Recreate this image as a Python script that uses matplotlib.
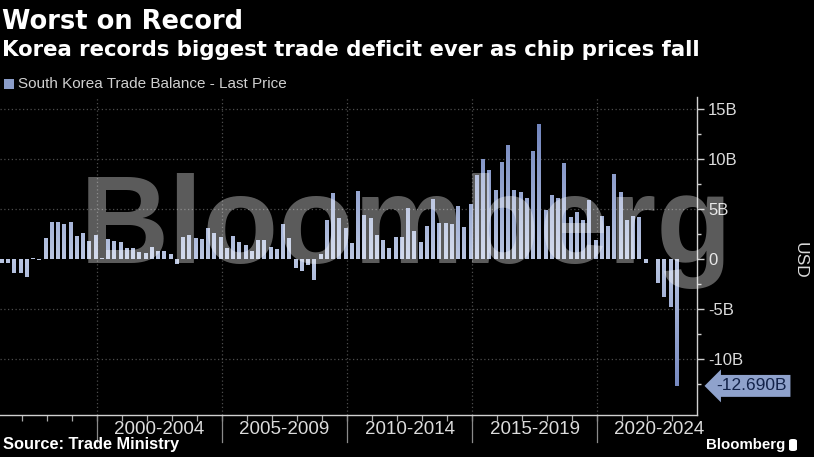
import numpy as np
import matplotlib.pyplot as plt
import matplotlib.transforms as mtransforms
from matplotlib.path import Path
from matplotlib.patches import Rectangle, FancyBboxPatch
from matplotlib.colors import LinearSegmentedColormap

# South Korea trade balance, USD bn, one bar per quarter from 1996
balance = [-0.4, -0.4, -1.4, -1.4, -1.8, 0.1, -0.1, 2.1, 3.7, 3.7,
           3.5, 3.7, 2.3, 2.6, 1.8, 2.4, 0.1, 2.0, 1.8, 1.7,
           1.1, 1.1, 0.7, 0.6, 1.2, 0.8, 0.8, 0.5, -0.5, 2.2,
           2.4, 2.1, 2.0, 3.1, 2.6, 2.2, 1.1, 2.3, 1.7, 1.4,
           0.8, 1.9, 1.9, 1.2, 1.0, 3.5, 2.1, -0.9, -1.2, -0.6,
           -2.1, 0.5, 3.9, 6.6, 4.1, 3.1, 1.6, 6.8, 4.4, 4.1,
           2.4, 1.9, 1.1, 2.2, 2.2, 5.1, 2.8, 1.7, 3.3, 6.0,
           3.6, 3.6, 3.5, 5.3, 3.2, 5.5, 8.4, 10.0, 8.9, 6.9,
           9.7, 11.4, 6.9, 6.7, 6.1, 10.8, 13.5, 4.9, 6.4, 6.1,
           9.6, 4.2, 4.7, 3.9, 5.9, 1.9, 4.3, 3.3, 8.5, 6.7,
           3.9, 4.3, 4.2, -0.4, 0.0, -2.4, -3.8, -4.8, -12.69]
first_bar = 1996.19
bar_step = 0.25

group_starts = [2000, 2005, 2010, 2015, 2020]
group_labels = ['2000-2004', '2005-2009', '2010-2014', '2015-2019', '2020-2024']
year_ticks = list(range(1997, 2024))
ytick_vals = [-10, -5, 0, 5, 10, 15]
ytick_labels = ['-10B', '-5B', '0', '5B', '10B', '15B']
last_label = '-12.690B'

x = first_bar + bar_step * np.arange(len(balance))
xmin, xmax = 1996.12, 2024.0
ymin, ymax = -15.6, 16.2

plt.rcParams['font.family'] = ['Liberation Sans', 'DejaVu Sans']
txt = '#dcdcdc'
grid = '#4d4d4d'

fig = plt.figure(figsize=(8.14, 4.57), dpi=100, facecolor='black')
ax = fig.add_axes([0, 0.0919, 0.8563, 0.6958])
ax.set_facecolor('black')

# bars, filled with a gradient (light near zero, darker at the tips)
bars = ax.bar(x, balance, width=0.16, color='none', linewidth=0, zorder=2)
clip = Path.make_compound_path(*[b.get_path().transformed(b.get_patch_transform()) for b in bars])
cmap = LinearSegmentedColormap.from_list('bbg', ['#bac6e2', '#6f83bd'])
grad = np.abs(np.linspace(ymax, ymin, 400))[:, None]
img = ax.imshow(grad, extent=[xmin, xmax, ymin, ymax], aspect='auto', cmap=cmap,
                vmin=0, vmax=14, zorder=2, interpolation='bilinear')
img.set_clip_path(clip, ax.transData)

ax.set_xlim(xmin, xmax)
ax.set_ylim(ymin, ymax)

for v in ytick_vals:
    if v != 0:
        ax.axhline(v, ls=(0, (1, 2)), color=grid, lw=0.9, zorder=1)
below = mtransforms.blended_transform_factory(ax.transData, ax.transAxes)
for s in group_starts:
    ax.axvline(s, ls=(0, (1, 2)), color=grid, lw=0.9, zorder=1)
    ax.plot([s, s], [0, -0.085], transform=below, color='#8a8a8a', lw=0.9, clip_on=False)

for sp in ['top', 'left']:
    ax.spines[sp].set_visible(False)
for sp in ['bottom', 'right']:
    ax.spines[sp].set_color('#d0d0d0')
    ax.spines[sp].set_linewidth(1.0)

ax.yaxis.tick_right()
ax.set_yticks(ytick_vals, ytick_labels)
ax.set_yticks(np.arange(-12.5, 15, 5), minor=True)
ax.tick_params(axis='y', which='major', colors='#d0d0d0', labelcolor=txt, length=5, width=1,
               pad=3, labelsize=12)
ax.tick_params(axis='y', which='minor', colors='#d0d0d0', length=3, width=1)

ax.set_xticks([s + 2.5 for s in group_starts], group_labels)
ax.set_xticks(year_ticks, minor=True)
ax.tick_params(axis='x', which='major', length=0, pad=4, labelcolor=txt, labelsize=13.5)
ax.tick_params(axis='x', which='minor', length=4, width=0.9, colors='#aaaaaa')

ax.annotate(last_label, xy=(1, balance[-1]), xycoords=('axes fraction', 'data'),
            xytext=(14, 0), textcoords='offset points', ha='left', va='center',
            fontsize=12.5, color='#13234a',
            bbox=dict(boxstyle='larrow,pad=0.2', fc='#8fa2cc', ec='none'))

fig.text(0.983, 0.431, 'USD', rotation=270, ha='center', va='center', color=txt,
         fontsize=12.5)

# watermark
fig.text(0.4994, 0.4245, 'Bloomberg', fontsize=89, fontweight='bold', color='white',
         alpha=0.36, ha='center', va='baseline', zorder=10)

# titles and legend
fig.text(0.003, 0.9376, 'Worst on Record', fontsize=18.5, fontweight='bold', color='white',
         va='baseline', family='DejaVu Sans')
fig.text(0.003, 0.8775, 'Korea records biggest trade deficit ever as chip prices fall',
         fontsize=15.3, fontweight='bold', color='white', va='baseline', family='DejaVu Sans')
fig.patches.append(Rectangle((4 / 814, 1 - 89 / 457), 10 / 814, 10 / 457,
                             transform=fig.transFigure, fc='#8a9cc8', ec='none'))
fig.text(18 / 814, 1 - 88.5 / 457, 'South Korea Trade Balance - Last Price', fontsize=11,
         color='#d0d0d0', va='baseline')

fig.text(0.004, 0.0175, 'Source: Trade Ministry', fontsize=11.8, fontweight='bold',
         color='white', va='baseline')
fig.text(785 / 814, 0.0175, 'Bloomberg', fontsize=10.8, fontweight='bold',
         color='white', va='baseline', ha='right')
fig.patches.append(FancyBboxPatch((789 / 814, 1 - 451 / 457), 8 / 814, 12 / 457,
                                  boxstyle='round,pad=0,rounding_size=0.004',
                                  transform=fig.transFigure, fc='white', ec='none'))

fig.savefig('out.png', dpi=100, facecolor='black')
